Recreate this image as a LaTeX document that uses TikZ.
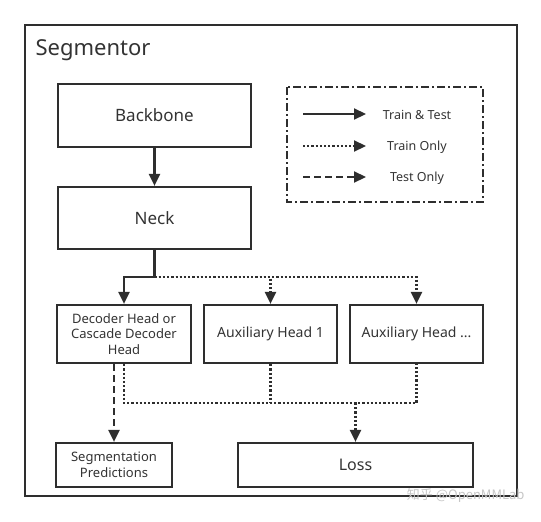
\documentclass[tikz,border=0pt]{standalone}
\usepackage{fontspec}
\setmainfont{Noto Sans}
\newfontfamily\cjk{Noto Sans CJK SC}
\usetikzlibrary{arrows.meta}
\definecolor{inkgray}{HTML}{2E2E2E}
\definecolor{txtgray}{HTML}{333333}
\tikzset{
  block/.style={draw=inkgray, line width=2.2pt, rectangle, inner sep=2pt, align=center, text=txtgray},
  trainandtest/.style={draw=inkgray, line width=2.2pt},
  trainonly/.style={draw=inkgray, line width=2.2pt, dash pattern=on 2.2pt off 2pt},
  testonly/.style={draw=inkgray, line width=2.2pt, dash pattern=on 7pt off 4pt},
}
\begin{document}
\begin{tikzpicture}[x=1pt, y=-1pt, >={Triangle[length=12pt,width=11pt]}, line join=miter]
            \useasboundingbox (0,0) rectangle (541,522);
            \draw[inkgray, line width=2.2pt] (25,25) rectangle (517,496); % segmentor frame
            \node[anchor=west, text=txtgray, font=\fontsize{22}{25}\selectfont] (title) at (32,50) {Segmentor};
            % main branch
            \node[block, minimum width=193pt, minimum height=63pt, font=\fontsize{17}{20}\selectfont] (backbone) at (154.5,115.5) {Backbone};
            \node[block, minimum width=193pt, minimum height=62pt, font=\fontsize{17}{20}\selectfont] (neck) at (154.5,218) {Neck};
            \node[block, minimum width=134pt, minimum height=58pt, font=\fontsize{13}{15.5}\selectfont] (dechead) at (124,334) {Decoder Head or\\Cascade Decoder\\Head};
            \node[block, minimum width=133pt, minimum height=58pt, font=\fontsize{14}{16}\selectfont] (auxhead1) at (270.5,334) {Auxiliary Head 1};
            \node[block, minimum width=133pt, minimum height=58pt, font=\fontsize{14}{16}\selectfont] (auxheadn) at (416.5,334) {Auxiliary Head ...};
            \node[block, minimum width=116pt, minimum height=44pt, font=\fontsize{13}{15.5}\selectfont] (segpred) at (114,465) {Segmentation\\Predictions};
            \node[block, minimum width=235pt, minimum height=44pt, font=\fontsize{16}{19}\selectfont] (loss) at (355.5,465) {Loss};
            \coordinate (split) at (154.5,277);
            \coordinate (merge) at (355.5,403);
            % connectors
            \draw[trainandtest, ->] (backbone) -- (neck);
            \draw[trainonly, ->] (split) -| (auxheadn.north);
            \draw[trainonly, ->] (split) -| (auxhead1.north);
            \draw[trainandtest, ->] (neck.south) -- (split) -| (dechead.north);
            \draw[testonly, ->] ([xshift=-10pt]dechead.south) -- (segpred.north);
            \draw[trainonly] (dechead.south) |- (merge) -| (auxheadn.south);
            \draw[trainonly] (auxhead1.south) -- (auxhead1.south |- merge);
            \draw[trainonly, ->] (merge) -- (loss.north);
            % legend
            \draw[inkgray, line width=2.2pt, dash pattern=on 8pt off 3pt on 2pt off 3pt] (287,87) rectangle (483,202);
            \coordinate (l1a) at (303,114); \coordinate (l1b) at (366,114);
            \coordinate (l2a) at (303,146); \coordinate (l2b) at (366,146);
            \coordinate (l3a) at (303,177); \coordinate (l3b) at (366,177);
            \draw[trainandtest, ->] (l1a) -- (l1b);
            \draw[trainonly, ->] (l2a) -- (l2b);
            \draw[testonly, ->] (l3a) -- (l3b);
            \node[text=txtgray, font=\fontsize{12.5}{15}\selectfont] (legtt) at (417,115) {Train \& Test};
            \node[text=txtgray, font=\fontsize{12.5}{15}\selectfont] (legtr) at (417,147) {Train Only};
            \node[text=txtgray, font=\fontsize{12.5}{15}\selectfont] (legte) at (417,178) {Test Only};
            % watermark
            \node[anchor=east, text=gray!45, font=\fontsize{13}{15}\selectfont] (mark) at (528,496) {\cjk 知乎 @OpenMMLab};
\end{tikzpicture}
\end{document}
